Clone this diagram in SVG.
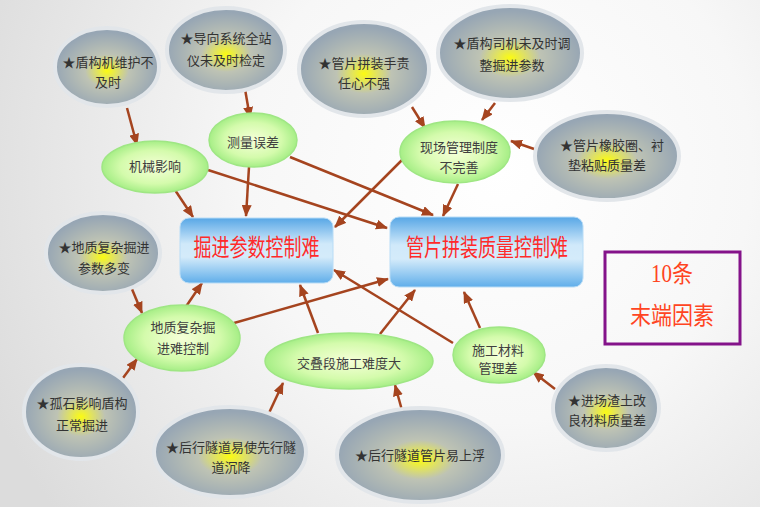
<svg xmlns="http://www.w3.org/2000/svg" width="760" height="507" viewBox="0 0 760 507">
<defs>
<radialGradient id="bg" gradientUnits="userSpaceOnUse" cx="500" cy="170" r="560">
<stop offset="0" stop-color="#ffffff"/><stop offset="0.45" stop-color="#f7f7f7"/><stop offset="1" stop-color="#dcdcdc"/>
</radialGradient>
<radialGradient id="gy" cx="0.5" cy="0.55" r="0.5">
<stop offset="0" stop-color="#fbfb12"/><stop offset="0.18" stop-color="#e2e45c"/><stop offset="0.42" stop-color="#bec3b4"/><stop offset="1" stop-color="#97a6b4"/>
</radialGradient>
<radialGradient id="gr" cx="0.5" cy="0.5" r="0.5">
<stop offset="0" stop-color="#f6ffd8"/><stop offset="0.65" stop-color="#d4fbac"/><stop offset="1" stop-color="#a6ee86"/>
</radialGradient>
<linearGradient id="bl" x1="0" y1="0" x2="0" y2="1">
<stop offset="0" stop-color="#58a7e6"/><stop offset="0.4" stop-color="#d0e9fa"/><stop offset="0.6" stop-color="#d4ebfa"/><stop offset="1" stop-color="#60aeea"/>
</linearGradient>
<marker id="ah" markerUnits="userSpaceOnUse" markerWidth="12" markerHeight="10" refX="11" refY="5" orient="auto">
<path d="M0,0 L12,5 L0,10 z" fill="#a5441f"/>
</marker>
<style>
.gy{fill:url(#gy);stroke:#e2e6ea;stroke-width:4}
.gr{fill:url(#gr);stroke:#9fe684;stroke-width:1.5}
.bx{fill:url(#bl);stroke:#b8dcf6;stroke-width:1}
.t{font-family:"Noto Sans CJK SC","Noto Sans",sans-serif;font-size:13px;text-anchor:middle;fill:#333333}
.tg{font-family:"Noto Sans CJK SC","Noto Sans",sans-serif;font-size:13px;text-anchor:middle;fill:#404040}
.tb{font-family:"Noto Sans CJK SC","Noto Sans",sans-serif;font-size:18px;text-anchor:middle;fill:#ff2a2a}
.tp{font-family:"Liberation Serif","Noto Sans CJK SC",serif;font-size:21px;text-anchor:middle;fill:#ff4422}
.c line{stroke:#a5441f;stroke-width:2.5;marker-end:url(#ah)}
</style>
</defs>
<rect width="760" height="507" fill="url(#bg)"/>

<g class="c" id="connectors">
<line x1="127" y1="108" x2="137" y2="145"/>
<line x1="245" y1="89" x2="250" y2="118"/>
<line x1="412" y1="107" x2="425" y2="128"/>
<line x1="495" y1="103" x2="482" y2="120"/>
<line x1="537" y1="150" x2="511" y2="141"/>
<line x1="175" y1="190" x2="193" y2="217"/>
<line x1="249" y1="167" x2="246" y2="216"/>
<line x1="208" y1="170" x2="387" y2="228"/>
<line x1="290" y1="157" x2="433" y2="215"/>
<line x1="402" y1="160" x2="335" y2="227"/>
<line x1="458" y1="184" x2="443" y2="216"/>
<line x1="185" y1="308" x2="202" y2="283"/>
<line x1="129" y1="282" x2="142" y2="313"/>
<line x1="123" y1="378" x2="137" y2="359"/>
<line x1="234" y1="323" x2="388" y2="279"/>
<line x1="318" y1="333" x2="300" y2="285"/>
<line x1="380" y1="334" x2="415" y2="290"/>
<line x1="453" y1="343" x2="334" y2="270"/>
<line x1="480" y1="328" x2="464" y2="292"/>
<line x1="269" y1="413" x2="283" y2="383"/>
<line x1="403" y1="414" x2="395" y2="385"/>
<line x1="555" y1="389" x2="533" y2="372"/>
</g>

<g id="n_dgjwh"><ellipse class="gy" cx="107" cy="67" rx="52" ry="39"/>
<text class="t" x="108" y="67">★盾构机维护不</text><text class="t" x="108" y="87">及时</text></g>
<g id="n_dxxt"><ellipse class="gy" cx="226" cy="50" rx="59" ry="42"/>
<text class="t" x="226" y="43">★导向系统全站</text><text class="t" x="226" y="65">仪未及时检定</text></g>
<g id="n_gppz"><ellipse class="gy" cx="364" cy="69" rx="65" ry="47"/>
<text class="t" x="364" y="68">★管片拼装手责</text><text class="t" x="364" y="88">任心不强</text></g>
<g id="n_dgsj"><ellipse class="gy" cx="510" cy="53" rx="72" ry="47"/>
<text class="t" x="512" y="48">★盾构司机未及时调</text><text class="t" x="512" y="70">整掘进参数</text></g>
<g id="n_xjq"><ellipse class="gy" cx="607" cy="156" rx="72" ry="44"/>
<text class="t" x="612" y="150">★管片橡胶圈、衬</text><text class="t" x="607" y="170">垫粘贴质量差</text></g>
<g id="n_dzcs"><ellipse class="gy" cx="103" cy="253" rx="57" ry="40"/>
<text class="t" x="104" y="252">★地质复杂掘进</text><text class="t" x="104" y="273">参数多变</text></g>
<g id="n_gs"><ellipse class="gy" cx="81" cy="412" rx="57" ry="47"/>
<text class="t" x="82" y="408">★孤石影响盾构</text><text class="t" x="82" y="430">正常掘进</text></g>
<g id="n_hxcj"><ellipse class="gy" cx="230" cy="452" rx="76" ry="45"/>
<text class="t" x="231" y="452">★后行隧道易使先行隧</text><text class="t" x="231" y="472">道沉降</text></g>
<g id="n_hxsf"><ellipse class="gy" cx="420" cy="455" rx="83" ry="47"/>
<text class="t" x="420" y="460">★后行隧道管片易上浮</text></g>
<g id="n_jczt"><ellipse class="gy" cx="606" cy="408" rx="53" ry="42"/>
<text class="t" x="607" y="405">★进场渣土改</text><text class="t" x="607" y="425">良材料质量差</text></g>

<g id="n_jxyx"><ellipse class="gr" cx="155" cy="167" rx="53" ry="26"/>
<text class="tg" x="155" y="171">机械影响</text></g>
<g id="n_clwc"><ellipse class="gr" cx="253" cy="140" rx="44" ry="27"/>
<text class="tg" x="253" y="147">测量误差</text></g>
<g id="n_xcgl"><ellipse class="gr" cx="455" cy="152" rx="55" ry="31"/>
<text class="tg" x="459" y="152">现场管理制度</text><text class="tg" x="459" y="172">不完善</text></g>
<g id="n_dzkz"><ellipse class="gr" cx="182" cy="338" rx="58" ry="33"/>
<text class="tg" x="183" y="332">地质复杂掘</text><text class="tg" x="183" y="353">进难控制</text></g>
<g id="n_jdd"><ellipse class="gr" cx="349" cy="361" rx="84" ry="28"/>
<text class="tg" x="349" y="368">交叠段施工难度大</text></g>
<g id="n_sgcl"><ellipse class="gr" cx="499" cy="355" rx="46" ry="28"/>
<text class="tg" x="498" y="355">施工材料</text><text class="tg" x="498" y="373">管理差</text></g>

<g id="n_jjcs"><rect class="bx" x="180" y="218" width="153" height="65" rx="9"/>
<text class="tb" transform="translate(256.5,256) scale(1,1.3)" x="0" y="0">掘进参数控制难</text></g>
<g id="n_gppzzl"><rect class="bx" x="390" y="217" width="193" height="70" rx="9"/>
<text class="tb" transform="translate(487,256) scale(1,1.3)" x="0" y="0">管片拼装质量控制难</text></g>

<g id="n_note"><rect x="605" y="252" width="135" height="92" fill="none" stroke="#84138a" stroke-width="3"/>
<text class="tp" transform="translate(672,282) scale(1,1.15)" x="0" y="0">10条</text>
<text class="tp" transform="translate(672,324) scale(1,1.15)" x="0" y="0">末端因素</text></g>
</svg>
